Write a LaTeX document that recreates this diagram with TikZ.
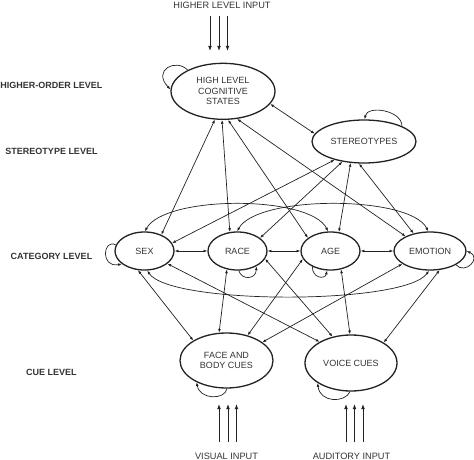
\documentclass[tikz,border=0pt]{standalone}
\usepackage{fontspec}
\setmainfont{Liberation Sans}
\usetikzlibrary{shapes.geometric,arrows.meta}
\definecolor{ink}{HTML}{222222}
\definecolor{txt}{HTML}{333333}
\begin{document}
\begin{tikzpicture}[x=1pt,y=-1pt,
  state/.style={ellipse,draw=ink,line width=1.3pt,inner sep=0pt,font=\fontsize{9}{10.5}\selectfont,text=txt,align=center},
  conn/.style={draw=ink,line width=0.7pt,{Latex[length=3.8pt,width=2.8pt]}-{Latex[length=3.8pt,width=2.8pt]}},
  loopa/.style={draw=ink,line width=0.7pt,-{Latex[length=3.8pt,width=2.8pt]}},
  inarrow/.style={draw=ink,line width=1pt,-{Latex[length=5pt,width=3.8pt]}},
  level/.style={font=\bfseries\fontsize{9}{11}\selectfont,text=txt,anchor=base},
  inlabel/.style={font=\fontsize{9.2}{11}\selectfont,text=txt,anchor=base}]
\useasboundingbox (0,0) rectangle (474,460);

% nodes
\node[state,minimum width=104pt,minimum height=56pt] (hlc) at (223,91.3) {HIGH LEVEL\\COGNITIVE\\STATES};
\node[state,minimum width=104pt,minimum height=43pt] (ster) at (364,141.5) {STEREOTYPES};
\node[state,minimum width=59pt,minimum height=38pt] (sex) at (144.5,251) {SEX};
\node[state,minimum width=59pt,minimum height=38pt] (race) at (237.5,251) {RACE};
\node[state,minimum width=59pt,minimum height=38pt] (age) at (330.5,251) {AGE};
\node[state,minimum width=72pt,minimum height=38pt] (emo) at (430,251) {EMOTION};
\node[state,minimum width=93pt,minimum height=55pt] (face) at (226.5,360.5) {FACE AND\\BODY CUES};
\node[state,minimum width=92pt,minimum height=56pt] (voice) at (351,363) {VOICE CUES};

% level labels
\node[level] (l1) at (51.5,88.5) {HIGHER-ORDER LEVEL};
\node[level] (l2) at (51.5,154) {STEREOTYPE LEVEL};
\node[level] (l3) at (51.5,259) {CATEGORY LEVEL};
\node[level] (l4) at (51.5,375) {CUE LEVEL};

% input labels
\node[inlabel] (hli) at (222,8.5) {HIGHER LEVEL INPUT};
\node[inlabel] (vi) at (226.5,459) {VISUAL INPUT};
\node[inlabel] (ai) at (351.5,459) {AUDITORY INPUT};

% input arrows
\coordinate (h1a) at (210,16); \coordinate (h1b) at (210,51);
\coordinate (h2a) at (219,16); \coordinate (h2b) at (219,51);
\coordinate (h3a) at (227.5,16); \coordinate (h3b) at (227.5,51);
\draw[inarrow] (h1a) -- (h1b);
\draw[inarrow] (h2a) -- (h2b);
\draw[inarrow] (h3a) -- (h3b);
\coordinate (v1a) at (219,442); \coordinate (v1b) at (219,404);
\coordinate (v2a) at (228,442); \coordinate (v2b) at (228,404);
\coordinate (v3a) at (236.5,442); \coordinate (v3b) at (236.5,404);
\draw[inarrow] (v1a) -- (v1b);
\draw[inarrow] (v2a) -- (v2b);
\draw[inarrow] (v3a) -- (v3b);
\coordinate (a1a) at (346,442); \coordinate (a1b) at (346,404);
\coordinate (a2a) at (354.5,442); \coordinate (a2b) at (354.5,404);
\coordinate (a3a) at (363,442); \coordinate (a3b) at (363,404);
\draw[inarrow] (a1a) -- (a1b);
\draw[inarrow] (a2a) -- (a2b);
\draw[inarrow] (a3a) -- (a3b);

% higher-order connections
\draw[conn] (hlc.-106) -- (sex.44);
\draw[conn] (hlc.-92) -- (race.112);
\draw[conn] (hlc.-80) -- (age.150);
\draw[conn] (hlc.-63) -- (emo.149);
\draw[conn] (hlc.-15) -- (ster.171);

% stereotype connections
\draw[conn] (ster.-148) -- (sex.16);
\draw[conn] (ster.-137) -- (race.30);
\draw[conn] (ster.-122) -- (age.66);
\draw[conn] (ster.-103) -- (emo.133);

% category level
\draw[conn] (sex.east) -- (race.west);
\draw[conn] (race.east) -- (age.west);
\draw[conn] (age.east) -- (emo.west);
\draw[conn] (sex.89) .. controls (165,195) and (310,195) .. (age.97);
\draw[conn] (race.91) .. controls (257,195) and (410,195) .. (emo.95);
\draw[conn] (sex.-82) .. controls (170,305) and (405,305) .. (emo.-93);

% cue connections
\draw[conn] (sex.-109) -- (face.149);
\draw[conn] (sex.-29) -- (voice.146);
\draw[conn] (race.-120) -- (face.105);
\draw[conn] (race.-16) -- (voice.125);
\draw[conn] (age.-164) -- (face.50);
\draw[conn] (age.-60) -- (voice.92);
\draw[conn] (emo.-155) -- (face.27);
\draw[conn] (emo.-63) -- (voice.32);

% self loops
\draw[loopa] (hlc.149) .. controls (176,58) and (152,70) .. (hlc.178);
\draw[loopa] (ster.22) .. controls (402,110) and (367,105) .. (ster.88);
\draw[loopa] (sex.168) .. controls (103,238) and (100,268) .. (sex.-150);
\draw[loopa] (race.-86) .. controls (241,280) and (256,280) .. (race.-39);
\draw[loopa] (age.-139) .. controls (312,278) and (325,280) .. (age.-100);
\draw[loopa] (emo.-28) .. controls (465,275) and (482,258) .. (emo.0);
\draw[loopa] (face.-89) .. controls (225,400) and (200,400) .. (face.-144.5);
\draw[loopa] (voice.-92) .. controls (345,403) and (320,403) .. (voice.-149);
\end{tikzpicture}
\end{document}
